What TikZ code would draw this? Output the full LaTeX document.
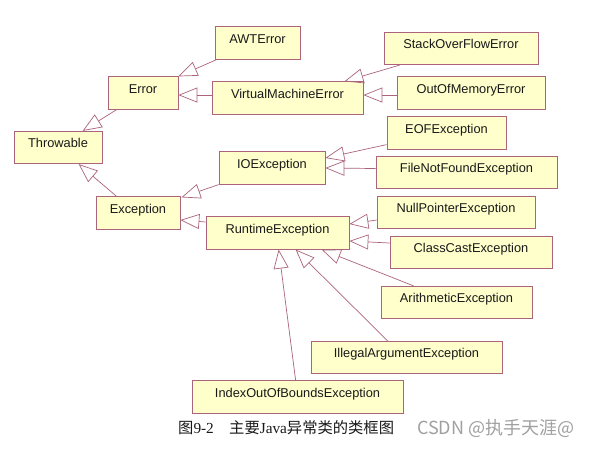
\documentclass[tikz,border=0pt]{standalone}
\usepackage{fontspec}
\setmainfont{Liberation Sans}
\newfontfamily\capserif{Liberation Serif}
\newfontfamily\cjk{Noto Sans CJK SC}
\usetikzlibrary{arrows.meta,calc}
\definecolor{boxfill}{RGB}{255,255,204}
\definecolor{boxline}{RGB}{172,100,122}
\definecolor{txt}{RGB}{25,25,25}
\definecolor{wm}{RGB}{160,160,160}
\begin{document}
\begin{tikzpicture}[x=1pt,y=-1pt,
  cls/.style={draw=boxline, fill=boxfill, line width=0.7pt, inner sep=0pt,
    minimum height=32.5pt, text height=9pt, text depth=9pt, text=txt,
    font=\fontsize{12.8}{13}\selectfont},
  gen/.style={draw=boxline, line width=0.7pt,
    -{Triangle[open,length=19pt,width=15pt,line width=0.7pt]}}]
\fill[white] (0,0) rectangle (593,448);
\useasboundingbox (0,0) rectangle (593,448);
% nodes
\node[cls, minimum width=85pt]  (AWT) at (257.5,43) {AWTError};
\node[cls, minimum width=70pt]  (Err) at (143,93) {Error};
\node[cls, minimum width=151pt] (VME) at (287.5,98) {VirtualMachineError};
\node[cls, minimum width=88pt]  (Thr) at (58,147.5) {Throwable};
\node[cls, minimum width=154pt] (SOF) at (461,48.5) {StackOverFlowError};
\node[cls, minimum width=148pt] (OOM) at (471,93) {OutOfMemoryError};
\node[cls, minimum width=106pt] (IOE) at (272,168) {IOException};
\node[cls, minimum width=119pt] (EOF) at (446.5,133) {EOFException};
\node[cls, minimum width=181pt] (FNF) at (466.5,172.5) {FileNotFoundException};
\node[cls, minimum width=84pt]  (Exc) at (138,213) {Exception};
\node[cls, minimum width=143pt] (RTE) at (277.5,233) {RuntimeException};
\node[cls, minimum width=158pt] (NPE) at (456,212.5) {NullPointerException};
\node[cls, minimum width=162pt] (CCE) at (471,252.5) {ClassCastException};
\node[cls, minimum width=151pt] (AE)  at (456.5,302.5) {ArithmeticException};
\node[cls, minimum width=191pt] (IAE) at (406.5,357.5) {IllegalArgumentException};
\node[cls, minimum width=211pt] (IOB) at (297.5,397) {IndexOutOfBoundsException};
% connectors
\draw[gen] ($(Err.south west)+(9,0)$) -- ($(Thr.north west)+(69,0)$);
\draw[gen] ($(AWT.south west)+(2,0)$) -- (Err.north east);
\draw[gen] ($(VME.west)+(0,-3)$) -- ($(Err.east)+(0,2)$);
\draw[gen] ($(SOF.south west)+(16,0)$) -- ($(VME.north east)+(-19,0)$);
\draw[gen] ($(OOM.west)+(0,2)$) -- ($(VME.east)+(0,-3)$);
\draw[gen] ($(Exc.north west)+(21,0)$) -- ($(Thr.south west)+(65,0)$);
\draw[gen] (IOE.south west) -- ($(Exc.north east)+(1,1)$);
\draw[gen] ($(RTE.west)+(0,-11)$) -- ($(Exc.east)+(0,7)$);
\draw[gen] ($(EOF.south west)+(0,-5)$) -- ($(IOE.east)+(0,-10)$);
\draw[gen] ($(FNF.west)+(0,-4)$) -- ($(IOE.east)+(0,0)$);
\draw[gen] ($(NPE.west)+(0,7.5)$) -- ($(RTE.east)+(0,-9)$);
\draw[gen] ($(CCE.west)+(0,-9.5)$) -- ($(RTE.east)+(0,8)$);
\draw[gen] ($(AE.north west)+(33,0)$) -- ($(RTE.south west)+(116,0)$);
\draw[gen] ($(IAE.north west)+(77,0)$) -- ($(RTE.south west)+(90,0)$);
\draw[gen] ($(IOB.north west)+(104,0)$) -- ($(RTE.south west)+(73,0)$);
% caption and watermark
\node[anchor=west, inner sep=0pt, text=txt, font=\fontsize{15.3}{15.3}\selectfont] (cap) at (178,428)
  {{\cjk 图}{\capserif 9-2}\hspace{1em}{\cjk 主要}{\capserif Java}{\cjk 异常类的类框图}};
\node[anchor=west, inner sep=0pt, text=wm, font=\fontsize{18}{18}\selectfont] (wmark) at (417,428)
  {{\cjk CSDN @执手天涯@}};
\end{tikzpicture}
\end{document}
